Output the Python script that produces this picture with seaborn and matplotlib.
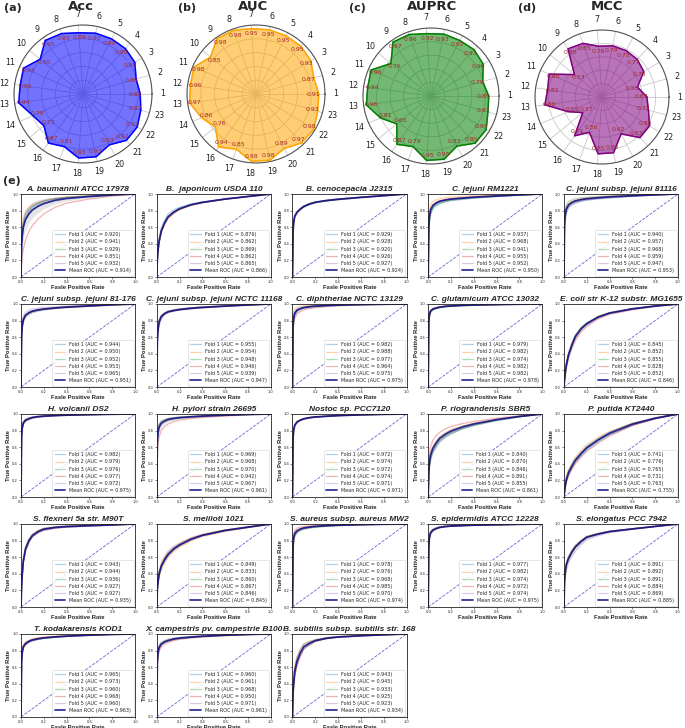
import numpy as np
import matplotlib
matplotlib.use("Agg")
import matplotlib.pyplot as plt
import seaborn as sns

sns.set_style("white")
plt.rcParams['font.family'] = ['DejaVu Sans']

# ---------------- radar data ----------------
categories = [str(i) for i in range(1, 24)]
acc = [0.83, 0.80, 0.88, 0.90, 0.90, 0.90, 0.89, 0.93, 0.95, 0.80, 0.94, 0.92,
       0.94, 0.79, 0.73, 0.87, 0.81, 0.93, 0.93, 0.83, 0.92, 0.92, 0.87]
auc = [0.91, 0.87, 0.93, 0.95, 0.95, 0.95, 0.95, 0.98, 0.98, 0.85, 0.98, 0.96,
       0.97, 0.86, 0.76, 0.94, 0.85, 0.98, 0.98, 0.89, 0.97, 0.98, 0.93]
auprc = [0.85, 0.79, 0.90, 0.93, 0.92, 0.93, 0.92, 0.96, 0.97, 0.76, 0.96, 0.94,
         0.96, 0.81, 0.65, 0.87, 0.79, 0.95, 0.95, 0.83, 0.95, 0.95, 0.87]
mcc = [0.67, 0.55, 0.73, 0.77, 0.78, 0.78, 0.76, 0.85, 0.88, 0.53, 0.86, 0.82,
       0.86, 0.55, 0.37, 0.71, 0.56, 0.85, 0.85, 0.62, 0.83, 0.83, 0.72]

radar_titles = ["Acc", "AUC", "AUPRC", "MCC"]
radar_letters = ["(a)", "(b)", "(c)", "(d)"]

# ---------------- ROC data ----------------
species = [
    "A. baumannii ATCC 17978", "B.  japonicum USDA 110", "B. cenocepacia J2315",
    "C. jejuni RM1221", "C. jejuni subsp. jejuni 81116", "C. jejuni subsp. jejuni 81-176",
    "C. jejuni subsp. jejuni NCTC 11168", "C. diphtheriae NCTC 13129", "C. glutamicum ATCC 13032",
    "E. coli str K-12 substr. MG1655", "H. volcanii DS2", "H. pylori strain 26695",
    "Nostoc sp. PCC7120", "P. riograndensis SBR5", "P. putida KT2440",
    "S. flexneri 5a str. M90T", "S. meliloti 1021", "S. aureus subsp. aureus MW2",
    "S. epidermidis ATCC 12228", "S. elongatus PCC 7942", "T. kodakarensis KOD1",
    "X. campestris pv. campestrie B100", "B. subtilis subsp. subtilis str. 168"]

fold_auc = [
    [0.920, 0.941, 0.929, 0.851, 0.932], [0.876, 0.862, 0.869, 0.862, 0.865],
    [0.929, 0.928, 0.920, 0.926, 0.927], [0.937, 0.968, 0.941, 0.955, 0.952],
    [0.940, 0.957, 0.968, 0.959, 0.947], [0.944, 0.950, 0.952, 0.953, 0.965],
    [0.955, 0.954, 0.948, 0.946, 0.939], [0.982, 0.988, 0.977, 0.964, 0.975],
    [0.979, 0.982, 0.974, 0.982, 0.982], [0.845, 0.852, 0.855, 0.828, 0.852],
    [0.982, 0.979, 0.976, 0.977, 0.972], [0.969, 0.968, 0.970, 0.942, 0.967],
    [0.972, 0.974, 0.972, 0.974, 0.971], [0.840, 0.870, 0.846, 0.891, 0.855],
    [0.741, 0.776, 0.765, 0.731, 0.763], [0.943, 0.944, 0.936, 0.927, 0.927],
    [0.849, 0.833, 0.860, 0.867, 0.846], [0.978, 0.976, 0.968, 0.985, 0.970],
    [0.977, 0.982, 0.974, 0.972, 0.974], [0.891, 0.892, 0.891, 0.884, 0.869],
    [0.965, 0.973, 0.960, 0.968, 0.960], [0.960, 0.961, 0.968, 0.950, 0.971],
    [0.943, 0.945, 0.933, 0.925, 0.923]]
mean_auc = [0.914, 0.866, 0.924, 0.950, 0.953, 0.951, 0.947, 0.975, 0.978, 0.846,
            0.975, 0.961, 0.971, 0.861, 0.755, 0.935, 0.845, 0.974, 0.975, 0.885,
            0.963, 0.961, 0.934]

# FPR sample points at which the TPR of each fold curve was read (ends at 0 and 1)
fpr_points = [0.005, 0.01, 0.02, 0.04, 0.07, 0.1, 0.15, 0.2, 0.3, 0.4, 0.6, 0.8]

tpr_folds = [
    [[0.38,0.48,0.62,0.72,0.79,0.84,0.88,0.91,0.94,0.955,0.975,0.99],
     [0.5,0.62,0.72,0.79,0.84,0.87,0.9,0.92,0.95,0.965,0.98,0.995],
     [0.42,0.52,0.66,0.75,0.81,0.85,0.89,0.915,0.945,0.96,0.975,0.99],
     [0.18,0.25,0.33,0.45,0.55,0.62,0.7,0.76,0.84,0.89,0.94,0.975],
     [0.42,0.55,0.67,0.76,0.82,0.86,0.895,0.92,0.945,0.96,0.978,0.993]],
    [[0.22,0.33,0.46,0.59,0.69,0.76,0.81,0.84,0.88,0.905,0.94,0.97],
     [0.2,0.29,0.41,0.54,0.64,0.71,0.77,0.81,0.865,0.895,0.935,0.97],
     [0.21,0.31,0.43,0.56,0.66,0.73,0.785,0.825,0.87,0.9,0.94,0.97],
     [0.19,0.29,0.41,0.54,0.64,0.71,0.77,0.815,0.865,0.895,0.94,0.97],
     [0.2,0.3,0.42,0.55,0.65,0.72,0.78,0.82,0.87,0.9,0.94,0.97]],
    [[0.56,0.66,0.74,0.785,0.825,0.855,0.885,0.905,0.925,0.94,0.962,0.982],
     [0.55,0.66,0.735,0.785,0.825,0.855,0.885,0.9,0.925,0.94,0.96,0.98],
     [0.53,0.64,0.72,0.77,0.81,0.84,0.87,0.895,0.915,0.93,0.955,0.978],
     [0.55,0.65,0.73,0.78,0.82,0.85,0.88,0.9,0.92,0.935,0.96,0.98],
     [0.55,0.655,0.735,0.78,0.82,0.85,0.88,0.9,0.922,0.937,0.96,0.98]],
    [[0.52,0.65,0.75,0.82,0.86,0.885,0.905,0.92,0.935,0.95,0.97,0.985],
     [0.7,0.8,0.87,0.91,0.93,0.945,0.955,0.962,0.97,0.978,0.988,0.995],
     [0.55,0.67,0.76,0.83,0.87,0.89,0.91,0.925,0.94,0.952,0.97,0.987],
     [0.62,0.74,0.82,0.87,0.9,0.92,0.935,0.945,0.955,0.965,0.978,0.99],
     [0.6,0.72,0.81,0.865,0.895,0.915,0.93,0.94,0.952,0.962,0.977,0.99]],
    [[0.55,0.67,0.76,0.83,0.87,0.89,0.91,0.925,0.94,0.952,0.97,0.987],
     [0.63,0.74,0.82,0.87,0.9,0.92,0.935,0.945,0.957,0.967,0.98,0.99],
     [0.7,0.8,0.87,0.91,0.93,0.945,0.955,0.962,0.97,0.978,0.988,0.995],
     [0.65,0.76,0.835,0.88,0.91,0.925,0.94,0.95,0.96,0.97,0.982,0.992],
     [0.58,0.7,0.79,0.85,0.88,0.9,0.92,0.932,0.947,0.958,0.975,0.988]],
    [[0.57,0.69,0.78,0.84,0.875,0.895,0.915,0.928,0.944,0.955,0.972,0.988],
     [0.6,0.72,0.8,0.86,0.89,0.91,0.925,0.935,0.95,0.96,0.975,0.99],
     [0.61,0.73,0.81,0.865,0.893,0.912,0.927,0.937,0.952,0.962,0.976,0.99],
     [0.61,0.73,0.81,0.865,0.895,0.914,0.929,0.939,0.953,0.963,0.977,0.99],
     [0.68,0.79,0.86,0.9,0.925,0.94,0.95,0.958,0.966,0.975,0.986,0.994]],
    [[0.6,0.72,0.81,0.865,0.895,0.915,0.93,0.94,0.955,0.965,0.978,0.99],
     [0.6,0.72,0.8,0.86,0.893,0.913,0.928,0.94,0.954,0.964,0.977,0.99],
     [0.56,0.69,0.78,0.85,0.885,0.905,0.92,0.932,0.948,0.958,0.975,0.988],
     [0.55,0.68,0.78,0.845,0.882,0.903,0.918,0.93,0.946,0.957,0.974,0.988],
     [0.45,0.6,0.73,0.82,0.87,0.895,0.913,0.925,0.94,0.952,0.97,0.986]],
    [[0.75,0.85,0.91,0.94,0.955,0.965,0.975,0.98,0.985,0.99,0.995,0.998],
     [0.8,0.9,0.94,0.96,0.97,0.978,0.985,0.988,0.992,0.994,0.997,0.999],
     [0.72,0.82,0.89,0.925,0.945,0.957,0.967,0.974,0.982,0.987,0.993,0.997],
     [0.65,0.76,0.83,0.88,0.91,0.93,0.945,0.955,0.968,0.977,0.988,0.995],
     [0.7,0.8,0.87,0.915,0.94,0.953,0.964,0.972,0.98,0.986,0.992,0.997]],
    [[0.78,0.86,0.91,0.935,0.95,0.96,0.97,0.975,0.982,0.987,0.993,0.997],
     [0.8,0.875,0.92,0.943,0.956,0.965,0.974,0.979,0.985,0.989,0.994,0.998],
     [0.75,0.84,0.895,0.925,0.942,0.953,0.964,0.97,0.978,0.984,0.991,0.996],
     [0.8,0.875,0.92,0.943,0.956,0.965,0.974,0.979,0.985,0.989,0.994,0.998],
     [0.8,0.87,0.918,0.942,0.955,0.965,0.974,0.979,0.985,0.989,0.994,0.998]],
    [[0.08,0.15,0.25,0.38,0.5,0.6,0.7,0.76,0.84,0.89,0.94,0.975],
     [0.09,0.16,0.27,0.4,0.52,0.62,0.71,0.77,0.85,0.895,0.945,0.977],
     [0.09,0.17,0.28,0.41,0.53,0.63,0.72,0.775,0.85,0.897,0.945,0.977],
     [0.07,0.13,0.22,0.34,0.46,0.56,0.66,0.73,0.82,0.875,0.93,0.97],
     [0.09,0.16,0.27,0.4,0.52,0.62,0.71,0.77,0.85,0.895,0.945,0.977]],
    [[0.76,0.86,0.91,0.94,0.955,0.965,0.975,0.98,0.985,0.99,0.995,0.998],
     [0.74,0.84,0.9,0.93,0.948,0.96,0.97,0.976,0.983,0.988,0.993,0.997],
     [0.72,0.82,0.885,0.92,0.94,0.955,0.965,0.972,0.98,0.985,0.992,0.997],
     [0.73,0.83,0.89,0.925,0.943,0.957,0.967,0.974,0.981,0.986,0.992,0.997],
     [0.7,0.8,0.87,0.91,0.932,0.948,0.96,0.968,0.977,0.983,0.99,0.996]],
    [[0.7,0.8,0.87,0.91,0.93,0.945,0.955,0.962,0.97,0.978,0.988,0.995],
     [0.69,0.79,0.865,0.905,0.927,0.943,0.954,0.961,0.97,0.978,0.988,0.995],
     [0.7,0.8,0.875,0.912,0.933,0.947,0.957,0.964,0.972,0.979,0.989,0.995],
     [0.5,0.62,0.72,0.8,0.85,0.88,0.91,0.925,0.945,0.958,0.975,0.99],
     [0.68,0.79,0.86,0.905,0.927,0.942,0.953,0.96,0.969,0.977,0.987,0.995]],
    [[0.7,0.8,0.86,0.9,0.925,0.94,0.955,0.963,0.972,0.98,0.99,0.996],
     [0.71,0.81,0.87,0.91,0.932,0.946,0.958,0.966,0.975,0.982,0.99,0.996],
     [0.7,0.8,0.86,0.9,0.925,0.94,0.955,0.963,0.972,0.98,0.99,0.996],
     [0.71,0.81,0.87,0.908,0.93,0.945,0.958,0.966,0.975,0.982,0.99,0.996],
     [0.69,0.795,0.86,0.9,0.923,0.938,0.953,0.962,0.971,0.979,0.989,0.996]],
    [[0.25,0.34,0.44,0.53,0.6,0.66,0.72,0.76,0.82,0.86,0.92,0.965],
     [0.32,0.42,0.52,0.6,0.67,0.72,0.77,0.81,0.855,0.89,0.935,0.972],
     [0.27,0.36,0.46,0.55,0.62,0.68,0.73,0.77,0.825,0.865,0.925,0.967],
     [0.4,0.5,0.6,0.68,0.74,0.78,0.82,0.85,0.885,0.91,0.95,0.978],
     [0.29,0.38,0.48,0.56,0.63,0.69,0.74,0.78,0.835,0.875,0.93,0.97]],
    [[0.05,0.1,0.18,0.27,0.35,0.42,0.5,0.57,0.67,0.75,0.865,0.945],
     [0.08,0.15,0.24,0.33,0.41,0.48,0.56,0.63,0.72,0.79,0.89,0.955],
     [0.07,0.13,0.22,0.31,0.39,0.46,0.54,0.61,0.7,0.78,0.885,0.952],
     [0.05,0.1,0.17,0.25,0.33,0.4,0.48,0.55,0.65,0.735,0.86,0.94],
     [0.07,0.13,0.21,0.3,0.38,0.45,0.53,0.6,0.7,0.78,0.885,0.952]],
    [[0.27,0.4,0.57,0.72,0.82,0.875,0.92,0.948,0.966,0.975,0.985,0.993],
     [0.27,0.41,0.58,0.72,0.82,0.877,0.922,0.95,0.967,0.976,0.985,0.993],
     [0.25,0.38,0.55,0.7,0.8,0.86,0.91,0.94,0.96,0.97,0.98,0.99],
     [0.23,0.36,0.53,0.68,0.78,0.845,0.895,0.925,0.95,0.962,0.975,0.985],
     [0.23,0.36,0.53,0.68,0.78,0.845,0.895,0.925,0.95,0.962,0.975,0.985]],
    [[0.21,0.29,0.39,0.49,0.57,0.63,0.7,0.745,0.815,0.862,0.922,0.962],
     [0.18,0.26,0.35,0.45,0.53,0.6,0.67,0.72,0.795,0.85,0.91,0.955],
     [0.22,0.3,0.41,0.51,0.59,0.65,0.715,0.76,0.825,0.87,0.928,0.965],
     [0.23,0.32,0.43,0.53,0.61,0.67,0.73,0.77,0.835,0.875,0.93,0.967],
     [0.2,0.28,0.38,0.48,0.56,0.62,0.69,0.74,0.81,0.86,0.92,0.96]],
    [[0.74,0.84,0.895,0.925,0.945,0.957,0.967,0.974,0.982,0.987,0.993,0.997],
     [0.73,0.83,0.89,0.92,0.942,0.954,0.964,0.972,0.98,0.986,0.992,0.997],
     [0.68,0.78,0.85,0.89,0.92,0.935,0.95,0.96,0.972,0.98,0.99,0.996],
     [0.8,0.88,0.925,0.95,0.962,0.97,0.977,0.982,0.988,0.991,0.995,0.998],
     [0.7,0.8,0.86,0.9,0.928,0.942,0.955,0.964,0.975,0.982,0.99,0.996]],
    [[0.73,0.84,0.895,0.93,0.948,0.962,0.971,0.976,0.982,0.986,0.991,0.996],
     [0.77,0.87,0.915,0.943,0.958,0.968,0.976,0.98,0.985,0.989,0.993,0.997],
     [0.71,0.82,0.885,0.92,0.942,0.957,0.968,0.974,0.98,0.985,0.99,0.996],
     [0.7,0.81,0.878,0.915,0.938,0.954,0.966,0.972,0.978,0.984,0.99,0.996],
     [0.71,0.82,0.885,0.92,0.942,0.957,0.968,0.974,0.98,0.985,0.99,0.996]],
    [[0.32,0.42,0.52,0.6,0.68,0.74,0.8,0.85,0.885,0.912,0.942,0.972],
     [0.33,0.43,0.53,0.61,0.68,0.74,0.8,0.85,0.885,0.913,0.943,0.972],
     [0.32,0.42,0.52,0.6,0.68,0.74,0.8,0.85,0.885,0.912,0.942,0.972],
     [0.3,0.4,0.5,0.58,0.66,0.72,0.79,0.84,0.88,0.91,0.94,0.97],
     [0.25,0.34,0.44,0.53,0.61,0.67,0.75,0.81,0.86,0.895,0.935,0.968]],
    [[0.66,0.78,0.845,0.885,0.913,0.928,0.943,0.953,0.965,0.974,0.986,0.995],
     [0.7,0.81,0.87,0.905,0.928,0.942,0.955,0.963,0.973,0.98,0.99,0.996],
     [0.63,0.75,0.83,0.87,0.9,0.918,0.935,0.946,0.96,0.97,0.984,0.994],
     [0.67,0.79,0.855,0.893,0.918,0.933,0.947,0.957,0.968,0.976,0.987,0.995],
     [0.63,0.75,0.83,0.87,0.9,0.918,0.935,0.946,0.96,0.97,0.984,0.994]],
    [[0.64,0.755,0.83,0.875,0.903,0.918,0.938,0.948,0.96,0.971,0.984,0.994],
     [0.65,0.76,0.83,0.88,0.905,0.92,0.94,0.95,0.962,0.972,0.985,0.995],
     [0.68,0.79,0.855,0.895,0.918,0.932,0.948,0.957,0.968,0.977,0.988,0.995],
     [0.58,0.7,0.79,0.845,0.878,0.898,0.92,0.935,0.952,0.963,0.98,0.992],
     [0.7,0.8,0.865,0.9,0.922,0.936,0.95,0.958,0.97,0.978,0.989,0.996]],
    [[0.33,0.44,0.6,0.72,0.82,0.88,0.91,0.93,0.955,0.968,0.982,0.992],
     [0.36,0.46,0.62,0.73,0.82,0.88,0.91,0.932,0.956,0.968,0.982,0.992],
     [0.3,0.4,0.55,0.67,0.77,0.84,0.885,0.918,0.948,0.963,0.978,0.99],
     [0.27,0.36,0.5,0.63,0.74,0.82,0.87,0.91,0.944,0.96,0.977,0.989],
     [0.25,0.34,0.48,0.62,0.73,0.82,0.87,0.91,0.944,0.96,0.977,0.989]]]

fold_colors = ['#1f77b4', '#ff7f0e', '#2ca02c', '#d62728', '#9467bd']

# ---------------- figure ----------------
W, H = 685, 728
fig = plt.figure(figsize=(W / 100, H / 100), dpi=100)

radar_series = [acc, auc, auprc, mcc]
radar_colors = [('#0000ff', '#0000ff'), ('#ffa500', '#ffa500'),
                ('#008000', '#008000'), ('#800080', '#800080')]
radar_geom = [(83, 94, 69), (256, 94, 69), (431, 96, 68), (602, 97, 67)]
title_x = [81, 253, 432, 607]
letter_x = [13, 187, 357, 527]

n = len(categories)
angles = np.linspace(0, 2 * np.pi, n, endpoint=False)
ang_c = np.concatenate([angles, angles[:1]])

for k in range(4):
    cx, cy, r = radar_geom[k]
    ax = fig.add_axes([(cx - r) / W, 1 - (cy + r) / H, 2 * r / W, 2 * r / H],
                      projection='polar')
    vals = np.array(radar_series[k])
    vc = np.concatenate([vals, vals[:1]])
    fc, ec = radar_colors[k]
    ax.fill(ang_c, vc, color=fc, alpha=0.55, zorder=2)
    ax.plot(ang_c, vc, color=ec, lw=1.0, zorder=3)
    ax.set_ylim(0, 1)
    ax.set_yticks([0.2, 0.4, 0.6, 0.8, 1.0])
    ax.set_yticklabels([])
    ax.set_xticks(angles)
    ax.set_xticklabels(categories, fontsize=5.8, color='#222222')
    ax.tick_params(axis='x', pad=-3)
    ax.grid(color='#c8c8c8', lw=0.6)
    ax.spines['polar'].set_color('#555555')
    ax.spines['polar'].set_linewidth(0.8)
    for a, v in zip(angles, vals):
        ax.text(a, v - 0.075, f"{v:.2f}", fontsize=4.4, color='#a52a2a',
                ha='center', va='center', zorder=4)
    fig.text(title_x[k] / W, 1 - 10 / H, radar_titles[k], fontsize=9.5,
             fontweight='bold', ha='center', va='baseline')
    fig.text(letter_x[k] / W, 1 - 11 / H, radar_letters[k], fontsize=8,
             fontweight='bold', ha='center', va='baseline')

fig.text(12 / W, 1 - 181 / H, "(e)", fontsize=8, fontweight='bold',
         ha='center', va='center')

gs = fig.add_gridspec(5, 5, left=21 / W, right=678 / W, top=1 - 194 / H,
                      bottom=1 - 717 / H, wspace=0.19, hspace=0.325)
fpr_full = np.array([0.0] + fpr_points + [1.0])
roc_font = ['Liberation Sans', 'DejaVu Sans']

for i, name in enumerate(species):
    ax = fig.add_subplot(gs[i // 5, i % 5])
    folds = np.array([[0.0] + f + [1.0] for f in tpr_folds[i]])
    for j in range(5):
        sns.lineplot(x=fpr_full, y=folds[j], ax=ax, color=fold_colors[j],
                     alpha=0.35, lw=0.9, sort=False,
                     label=f"Fold {j + 1} (AUC = {fold_auc[i][j]:.3f})")
    mean_tpr = folds.mean(axis=0)
    std_tpr = folds.std(axis=0)
    ax.fill_between(fpr_full, np.clip(mean_tpr - std_tpr, 0, 1),
                    np.clip(mean_tpr + std_tpr, 0, 1), color='grey', alpha=0.2, lw=0)
    sns.lineplot(x=fpr_full, y=mean_tpr, ax=ax, color='navy', alpha=0.8, lw=1.3,
                 sort=False, label=f"Mean ROC (AUC = {mean_auc[i]:.3f})")
    ax.plot([0, 1], [0, 1], ls='--', lw=0.6, color='#4040c8', alpha=0.8)
    ax.set_xlim(0, 1)
    ax.set_ylim(0, 1)
    ax.set_xticks([0, 0.2, 0.4, 0.6, 0.8, 1.0])
    ax.set_yticks([0, 0.2, 0.4, 0.6, 0.8, 1.0])
    ax.set_xticklabels(['0.0', '0.2', '0.4', '0.6', '0.8', '1.0'])
    ax.set_yticklabels(['0.0', '0.2', '0.4', '0.6', '0.8', '1.0'])
    ax.tick_params(labelsize=2.6, length=1.2, width=0.4, pad=1, direction='out',
                   bottom=True, left=True)
    for s in ax.spines.values():
        s.set_linewidth(0.6)
        s.set_color('#222222')
    ax.set_xlabel("Fasle Positive Rate", fontsize=4.2, fontweight='bold',
                  family=roc_font, labelpad=0.5)
    ax.set_ylabel("True Positive Rate", fontsize=4.2, fontweight='bold',
                  family=roc_font, labelpad=0.5)
    ax.set_title(name, fontsize=6.0, fontweight='bold', style='italic',
                 family=roc_font, pad=2.5)
    leg = ax.legend(loc='lower right', fontsize=3.5, labelspacing=0.45,
                    handlelength=2.2, borderpad=0.5, handletextpad=0.8,
                    frameon=True, framealpha=0.85, borderaxespad=0.3)
    leg.get_frame().set_linewidth(0.4)

fig.savefig("out.png", dpi=100)
